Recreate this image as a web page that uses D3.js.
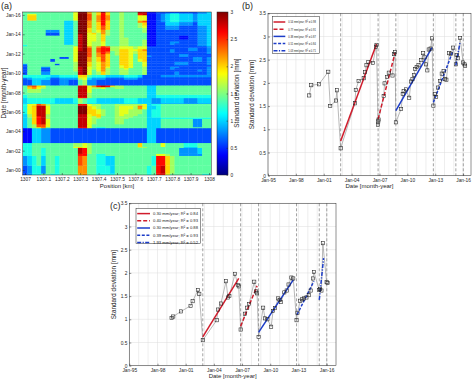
<!DOCTYPE html>
<html><head><meta charset="utf-8">
<script src="https://cdn.jsdelivr.net/npm/d3@7"></script>
<style>body{margin:0;background:#fff}svg{display:block}</style>
</head><body><svg id="fig" width="474" height="380"></svg>
<script>
// ---------------- DATA ----------------
const cellPositions = [1307.000,1307.025,1307.050,1307.075,1307.100,1307.125,1307.150,1307.175,1307.200,1307.225,
 1307.250,1307.275,1307.300,1307.325,1307.350,1307.375,1307.400,1307.425,1307.450,1307.475,
 1307.500,1307.525,1307.550,1307.575,1307.600,1307.625,1307.650,1307.675,1307.700,1307.725,
 1307.750,1307.775,1307.800,1307.825,1307.850,1307.875,1307.900,1307.925,1307.950,1307.975,1308.000];
const surveyDates = [1999.44,1999.66,2000.48,2001.49,2001.70,2002.31,2002.42,2002.82,2004.35,2004.45,
 2004.75,2005.30,2005.45,2005.60,2005.80,2006.30,2006.62,2006.68,2006.85,2006.87,
 2006.90,2007.45,2007.55,2007.80,2008.00,2008.40,2008.58,2008.68,2008.76,2009.33,
 2009.50,2009.60,2009.85,2010.20,2010.40,2010.55,2010.70,2010.85,2011.00,2011.20,
 2011.50,2011.70,2011.85,2012.00,2012.15,2012.30,2012.50,2012.65,2012.80,2012.95,
 2013.10,2013.30,2013.50,2013.70,2013.90,2014.05,2014.20,2014.50,2014.70,2014.93,
 2015.22,2015.30,2015.45,2015.68,2016.00,2016.15,2016.22];
// std deviation per cell, hex level h -> h*0.2 mm
const stdRows = [
"3466776677 77ab776666 777777767d d977777776 6",
"3466477677 77bb776665 777777767d ea87777777 7",
"4567577677 77cb776655 777777776d da87777777 7",
"6677677777 77dd776677 7777777779 9877444447 7",
"6677677777 77ed877777 7777777777 7777444457 7",
"6677777777 79a9877777 7777788777 7777755577 7",
"6677777777 7889877777 77777a7777 9777766677 7",
"2255443333 3333333333 3333333553 3333333333 3",
"5789b77777 77dd976677 7777777555 7777777777 7",
"578cc97777 77ee977777 7777777555 7777777447 7",
"57ade97777 77ee987777 8877777555 7777777447 7",
"57ade87777 77ee988777 8887777555 6666666666 6",
"58ade87777 77ee98a777 8888777566 7777777777 7",
"58aee87777 77ee9aa877 8988877566 7777777777 7",
"69aee97777 77ffaa9877 8998887566 7777777777 7",
"69aee97777 77ffa98777 89998b9556 7777777777 7",
"69bee97777 77ff988777 89999ca556 7777777777 7",
"699cb87777 77dd988777 8888889566 7777777777 7",
"5555665555 5566555555 5555555544 4444444444 4",
"5565665555 5577555555 5555555544 4444444444 4",
"5666666555 5687665555 5566655544 5555544455 5",
"6777777777 77dd877777 7777777556 6666666666 6",
"6777777777 77ee877777 7777777556 6666666666 6",
"7777777777 77ee877777 7777777557 7777777777 7",
"7888777777 77ee977777 7777777557 7777777777 7",
"7ab9877777 77ee988977 8877777557 7777777777 7",
"7bca977777 77ee9bded9 8877777557 7777777777 7",
"7bca977777 77dd9bdedb 8877777557 7777777777 7",
"3355443344 3378443333 3333333333 3333333333 3",
"3455553344 4489544433 3344433333 3333333333 3",
"5566654455 5599655544 4455543333 3333333333 3",
"6666665566 66aa766655 5566653333 4444444444 4",
"3777447777 77ef978a87 7887778333 3334333333 4",
"3777337777 78ef979b87 7887778333 3333333343 4",
"3777337777 78ef989b87 7897778333 3343333333 4",
"3777447777 78ef989b97 79a9778333 3344333333 4",
"3777777777 78ffa89ba7 79a9779333 3333333333 3",
"4777777377 78ffa89ba7 7aa9779333 3334443333 4",
"7777777777 78ffa89ba7 7aa9779333 3334443333 4",
"7777773777 79ffb8aca7 7aa979a333 3333333443 4",
"7777777733 79ffb8aca7 7aa97aa333 3333333443 4",
"7777777777 79ffc8bca7 7aa97aa433 3333443333 3",
"7777777777 79ffc8bca7 8aa97aa333 3333443333 3",
"7777777777 79ffc8bdb7 8aa98aa333 3333333333 4",
"7777777777 79ffc8cdc7 8aa98aa333 3343333333 4",
"7777777777 79efc8cdd8 8aa99ab333 3343334433 4",
"7777777777 79efc8cdd8 8999899333 3333334433 4",
"7777777777 79efb8bdc8 8999899333 3333333333 4",
"6777777777 77ef988977 7887778223 3333333344 5",
"7777777775 57ef988977 7887778223 3343333344 5",
"7777777775 57ef988977 7887778223 3344333344 5",
"7777777775 57ef998a77 7887778223 3333333344 5",
"7777777775 57ef998a77 7887777223 3333223344 5",
"7777777775 57ef998a77 7877777223 3333223344 5",
"7777733375 57ef998a87 7877777223 3333333344 5",
"7777733375 57ff9a8b87 7877777223 3333333344 5",
"7777744475 57ffa89b87 7877778223 3333333344 5",
"7777777775 57ffa8aca7 7877778223 3444333344 5",
"7777777775 57ffb8aca7 7877789223 3444333344 5",
"7777777775 57ffb8ada7 787778a223 3555444355 5",
"7777777775 57ffb8ada7 78777bb223 3555444355 5",
"7777777775 57ffb8bda7 78777bc223 4566555455 5",
"7aa7777777 79ffc8bdb7 7877799223 4566555455 5",
"7aa7777777 79ffc8bdb7 7877799223 4566555455 5",
"7997777777 79ffc8ada7 78777de223 4566555455 5",
"7777777777 79ffb8ada7 78777ee223 3455444344 5",
"7777777777 79ffb8aea7 78777ee223 3333333344 5"];
const posTicks = [1307,1307.1,1307.2,1307.3,1307.4,1307.5,1307.6,1307.7,1307.8,1307.9,1308];
const posTickLabels = ["1307","1307.1","1307.2","1307.3","1307.4","1307.5","1307.6","1307.7","1307.8","1307.9","1308"];
const dateTicksA = [2000,2002,2004,2006,2008,2010,2012,2014,2016];
const dateTickLabelsA = ["Jan-00","Jan-02","Jan-04","Jan-06","Jan-08","Jan-10","Jan-12","Jan-14","Jan-16"];
const cbarTicks = [0,0.5,1,1.5,2,2.5,3];
const cbarTickLabels = ["0","0.5","1","1.5","2","2.5","3"];

const dateTicksTS = [1995,1998,2001,2004,2007,2010,2013,2016];
const dateTickLabelsTS = ["Jan-95","Jan-98","Jan-01","Jan-04","Jan-07","Jan-10","Jan-13","Jan-16"];
const stdTicks = [0,0.5,1,1.5,2,2.5,3,3.5];
const stdTickLabels = ["0","0.5","1","1.5","2","2.5","3","3.5"];
const resetDates = [2002.82,2006.85,2008.76,2012.80,2015.22,2016.02];

// panel (b)
const datesB = surveyDates;
const valsB = [1.73,1.95,1.97,2.24,1.50,1.62,1.84,0.59,1.56,1.85,
 2.04,2.10,2.23,2.38,2.45,2.43,2.78,2.82,1.10,1.17,
 1.21,1.72,1.99,2.13,2.22,2.16,2.62,2.66,1.15,1.44,
 1.76,1.82,1.86,1.68,2.03,2.08,2.17,2.30,2.34,2.38,
 2.49,2.64,2.55,2.40,2.27,2.72,2.74,2.96,1.51,1.76,
 1.70,1.90,2.04,2.20,2.25,2.08,2.07,2.64,2.63,2.76,
 2.40,2.60,2.53,2.97,2.44,2.40,2.37];
const fitX0B = [2002.82,2006.85,2008.76,2012.80,2015.22];
const fitY0B = [0.75,1.22,1.40,1.58,2.38];
const fitX1B = [2006.68,2008.68,2012.65,2014.93,2015.68];
const fitY1B = [2.84,2.65,2.76,2.70,2.88];
const legendB = ["0.54 mm/year; R\u00B2 = 0.98","0.77 mm/year; R\u00B2 = 0.91","0.38 mm/year; R\u00B2 = 0.87","0.51 mm/year; R\u00B2 = 0.84","1.03 mm/year; R\u00B2 = 0.71"];

// panel (c)
const datesC = [1999.50,1999.68,2000.50,2001.52,2001.74,2002.31,2002.45,2002.82,2004.30,2004.45,
 2004.75,2005.30,2005.50,2005.65,2006.25,2006.55,2006.65,2006.85,2007.30,2007.55,
 2007.75,2008.30,2008.50,2008.60,2008.76,2009.25,2009.45,2009.70,2010.10,2010.30,
 2010.50,2010.85,2011.00,2011.15,2011.50,2011.75,2011.95,2012.25,2012.45,2012.80,
 2012.90,2013.20,2013.40,2013.60,2013.85,2014.10,2014.30,2014.55,2014.65,2015.22,
 2015.30,2015.45,2015.60,2016.00,2016.10];
const valsC = [1.03,1.06,1.17,1.29,1.39,1.63,1.55,0.55,0.98,1.21,
 1.34,1.82,1.47,1.50,1.98,1.74,1.71,0.78,1.12,1.25,
 1.33,1.81,1.60,1.56,0.62,1.25,1.02,1.00,0.84,1.18,
 1.24,1.45,1.42,1.37,1.58,1.62,1.75,1.90,1.88,0.98,
 1.14,1.40,1.43,1.45,1.47,1.52,1.62,1.88,2.02,1.63,
 1.65,1.62,2.64,1.80,1.78];
const fitX0C = [2002.82,2006.85,2008.76,2012.85,2015.22];
const fitY0C = [0.62,0.85,0.72,1.10,1.42];
const fitX1C = [2006.65,2008.60,2012.45,2014.65,2015.68];
const fitY1C = [1.88,1.72,1.85,1.82,2.32];
const legendC = ["0.30 mm/year; R\u00B2 = 0.84","0.40 mm/year; R\u00B2 = 0.93","0.30 mm/year; R\u00B2 = 0.88","0.39 mm/year; R\u00B2 = 0.93","1.93 mm/year; R\u00B2 = 0.52"];

// ---------------- DRAWING ----------------
const FONT = "'Liberation Sans', Arial, Helvetica, sans-serif";
const INK = "#262626";
const TICK_FS = 4.8, TITLE_FS = 6.0, VTITLE_FS = 6.4;
const svg = d3.select("#fig");
svg.append("rect").attr("width",474).attr("height",380).attr("fill","#fff");

function jet(t){
  t = Math.max(0, Math.min(1, t));
  const c = v => Math.max(0, Math.min(1, v));
  const r = c(Math.min(4*t-1.5, -4*t+4.5));
  const g = c(Math.min(4*t-0.5, -4*t+3.5));
  const b = c(Math.min(4*t+0.5, -4*t+2.5));
  return d3.rgb(r*255, g*255, b*255).formatHex();
}
function styleAxis(g, fs){
  g.selectAll("path.domain").attr("stroke", INK).attr("stroke-width", 0.5);
  g.selectAll(".tick line").attr("stroke", INK).attr("stroke-width", 0.5);
  g.selectAll(".tick text").attr("fill", INK).attr("font-size", fs).attr("font-family", FONT);
}
function txt(x, y, s, fs, anchor, rot){
  const t = svg.append("text").attr("x", x).attr("y", y).text(s)
    .attr("font-size", fs).attr("font-family", FONT).attr("fill", INK)
    .attr("text-anchor", anchor || "middle");
  if (rot) t.attr("transform", `rotate(${rot},${x},${y})`);
  return t;
}

// ---- panel (a): heatmap ----
const A = {l:22.7, r:211.3, t:12, b:175};
const xA = d3.scaleLinear().domain([1306.9875, 1308.0125]).range([A.l, A.r]);
const yA = d3.scaleLinear().domain([1999.49, 2016.3]).range([A.b, A.t]);
const cScale = v => jet(v/3);
svg.append("clipPath").attr("id","clipA").append("rect")
  .attr("x",A.l).attr("y",A.t).attr("width",A.r-A.l).attr("height",A.b-A.t);
const gA = svg.append("g").attr("clip-path","url(#clipA)");
const cells = [];
stdRows.forEach((row, i) => {
  const s = row.replace(/ /g, "");
  const y0 = surveyDates[i];
  const y1 = i < surveyDates.length-1 ? surveyDates[i+1] : 2016.3;
  cellPositions.forEach((p, j) => {
    const ch = s[Math.min(j, s.length-1)];
    cells.push({p, y0, y1, v: parseInt(ch, 16)*0.2});
  });
});
gA.selectAll("rect.cell").data(cells).enter().append("rect")
  .attr("x", d => xA(d.p-0.0125))
  .attr("width", d => xA(d.p+0.0125)-xA(d.p-0.0125)+0.35)
  .attr("y", d => yA(d.y1))
  .attr("height", d => yA(d.y0)-yA(d.y1)+0.35)
  .attr("fill", d => cScale(d.v));
svg.append("rect").attr("x",A.l).attr("y",A.t).attr("width",A.r-A.l).attr("height",A.b-A.t)
  .attr("fill","none").attr("stroke",INK).attr("stroke-width",0.5);
const axAx = svg.append("g").attr("transform",`translate(0,${A.b})`)
  .call(d3.axisBottom(xA).tickValues(posTicks).tickFormat((d,i)=>posTickLabels[i]).tickSizeInner(-2).tickSizeOuter(0).tickPadding(3));
styleAxis(axAx, TICK_FS);
const axAy = svg.append("g").attr("transform",`translate(${A.l},0)`)
  .call(d3.axisLeft(yA).tickValues(dateTicksA).tickFormat((d,i)=>dateTickLabelsA[i]).tickSizeInner(-2).tickSizeOuter(0).tickPadding(2));
styleAxis(axAy, TICK_FS);
axAx.select("path.domain").remove(); axAy.select("path.domain").remove();
txt(117, 188, "Position [km]", TITLE_FS);
txt(5.8, 93, "Date [month-year]", VTITLE_FS, "middle", -90);

// colorbar
const CB = {l:217, r:228, t:12, b:175};
const grad = svg.append("defs").append("linearGradient").attr("id","jetg")
  .attr("x1","0").attr("y1","1").attr("x2","0").attr("y2","0");
d3.range(0, 1.0001, 0.02).forEach(t => grad.append("stop").attr("offset", t).attr("stop-color", jet(t)));
svg.append("rect").attr("x",CB.l).attr("y",CB.t).attr("width",CB.r-CB.l).attr("height",CB.b-CB.t)
  .attr("fill","url(#jetg)").attr("stroke",INK).attr("stroke-width",0.5);
const yCB = d3.scaleLinear().domain([0,3]).range([CB.b, CB.t]);
const axCB = svg.append("g").attr("transform",`translate(${CB.r},0)`)
  .call(d3.axisRight(yCB).tickValues(cbarTicks).tickFormat((d,i)=>cbarTickLabels[i]).tickSizeInner(-1.5).tickSizeOuter(0).tickPadding(2.5));
styleAxis(axCB, TICK_FS); axCB.select("path.domain").remove();
txt(239, 93, "Standard deviation [mm]", VTITLE_FS, "middle", -90);
txt(1, 9, "(a)", 9, "start");

// ---- time-series panels ----
const RED = "#d01c2c", BLUE = "#1c3cc8";
const fitStyles = [
  {c:RED, d:null}, {c:RED, d:"4,2"}, {c:BLUE, d:null}, {c:BLUE, d:"3,1.6"}, {c:BLUE, d:"4,1.4,1.2,1.4"}];

function drawTS(P){
  const x = d3.scaleLinear().domain(P.xDom).range([P.l, P.r]);
  const y = d3.scaleLinear().domain([0, 3.5]).range([P.b, P.t]);
  const g = svg.append("g");
  g.selectAll("line.gx").data(d3.range(1995, 2017)).enter().append("line")
    .attr("x1", d=>x(d)).attr("x2", d=>x(d)).attr("y1", P.t).attr("y2", P.b)
    .attr("stroke", "#dcdcdc").attr("stroke-width", 0.5);
  g.selectAll("line.gy").data(stdTicks).enter().append("line")
    .attr("x1", P.l).attr("x2", P.r).attr("y1", d=>y(d)).attr("y2", d=>y(d))
    .attr("stroke", "#dcdcdc").attr("stroke-width", 0.5);
  g.selectAll("line.rs").data(resetDates).enter().append("line")
    .attr("x1", d=>x(d)).attr("x2", d=>x(d)).attr("y1", P.t).attr("y2", P.b)
    .attr("stroke", "#7a7a7a").attr("stroke-width", 0.7).attr("stroke-dasharray", "3,2");
  g.append("rect").attr("x",P.l).attr("y",P.t).attr("width",P.r-P.l).attr("height",P.b-P.t)
    .attr("fill","none").attr("stroke",INK).attr("stroke-width",0.5);
  const ax = g.append("g").attr("transform",`translate(0,${P.b})`)
    .call(d3.axisBottom(x).tickValues(dateTicksTS).tickFormat((d,i)=>dateTickLabelsTS[i]).tickSizeInner(-2).tickSizeOuter(0).tickPadding(3));
  styleAxis(ax, TICK_FS); ax.select("path.domain").remove();
  const ay = g.append("g").attr("transform",`translate(${P.l},0)`)
    .call(d3.axisLeft(y).tickValues(stdTicks).tickFormat((d,i)=>stdTickLabels[i]).tickSizeInner(-2).tickSizeOuter(0).tickPadding(2));
  styleAxis(ay, TICK_FS); ay.select("path.domain").remove();
  const pts = P.dates.map((d,i)=>[d, P.vals[i]]);
  g.append("path").attr("d", d3.line().x(d=>x(d[0])).y(d=>y(d[1]))(pts))
    .attr("fill","none").attr("stroke","#8a8a8a").attr("stroke-width",0.6);
  P.fx0.forEach((d,i)=>{
    const ln = g.append("line").attr("x1", x(d)).attr("y1", y(P.fy0[i]))
      .attr("x2", x(P.fx1[i])).attr("y2", y(P.fy1[i]))
      .attr("stroke", fitStyles[i].c).attr("stroke-width", 1.5);
    if (fitStyles[i].d) ln.attr("stroke-dasharray", fitStyles[i].d);
  });
  const s = 3.2;
  g.selectAll("rect.pt").data(pts).enter().append("rect")
    .attr("x", d=>x(d[0])-s/2).attr("y", d=>y(d[1])-s/2).attr("width", s).attr("height", s)
    .attr("fill","none").attr("stroke","#1a1a1a").attr("stroke-width",0.55);
  const L = P.leg;
  g.append("rect").attr("x",L.x).attr("y",L.y).attr("width",L.w).attr("height",L.h)
    .attr("fill","#fff").attr("stroke",INK).attr("stroke-width",0.5);
  P.labels.forEach((lab,i)=>{
    const yy = L.y + 5.3 + i*7.2;
    const ln = g.append("line").attr("x1", L.x+1.2).attr("x2", L.x+L.lw).attr("y1", yy).attr("y2", yy)
      .attr("stroke", fitStyles[i].c).attr("stroke-width", 1.5);
    if (fitStyles[i].d) ln.attr("stroke-dasharray", fitStyles[i].d);
    g.append("text").attr("x", L.x+L.lw+3).attr("y", yy+1.3).text(lab)
      .attr("font-size", 3.9).attr("font-family", FONT).attr("fill", INK)
      .attr("textLength", L.tw).attr("lengthAdjust","spacingAndGlyphs");
  });
  txt(P.ylx, (P.t+P.b)/2, "Standard deviation [mm]", VTITLE_FS, "middle", -90);
  txt((P.l+P.r)/2, P.xly, "Date [month-year]", TITLE_FS);
}

drawTS({l:268, r:471, t:13.3, b:175.7, xDom:[1995, 2016.85],
  dates:datesB, vals:valsB, fx0:fitX0B, fy0:fitY0B, fx1:fitX1B, fy1:fitY1B,
  labels:legendB, leg:{x:272.3, y:16.7, w:47, h:36.6, lw:13, tw:27.5}, ylx:254, xly:188});
txt(242, 9, "(b)", 9, "start");

drawTS({l:129.3, r:336, t:203.3, b:365.7, xDom:[1995, 2017.0],
  dates:datesC, vals:valsC, fx0:fitX0C, fy0:fitY0C, fx1:fitX1C, fy1:fitY1C,
  labels:legendC, leg:{x:136, y:208.3, w:64.7, h:35, lw:14, tw:45}, ylx:116, xly:378});
txt(110, 208.5, "(c)", 9, "start");
</script>
</body></html>
